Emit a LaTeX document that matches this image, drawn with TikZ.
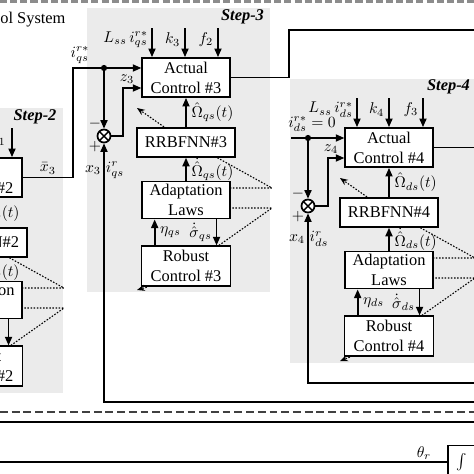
\documentclass[tikz,border=0pt]{standalone}
\usepackage{fontspec}
\setmainfont{Liberation Serif}
\usetikzlibrary{arrows.meta, positioning}
\begin{document}
\begin{tikzpicture}[x=0.64pt, y=-0.64pt, font=\fontsize{10.5}{12.8}\selectfont,
  blk/.style={draw, fill=white, line width=1.1pt, align=center, inner sep=1pt},
  act/.style={blk, minimum width=56pt, minimum height=25pt},
  nn/.style={blk, minimum width=63pt, minimum height=18.6pt},
  adapt/.style={blk, minimum width=56pt, minimum height=23.7pt},
  rob/.style={blk, minimum width=57pt, minimum height=25.6pt},
  wire/.style={line width=1.1pt},
  sig/.style={wire, -{Triangle[length=5.5pt, width=4.5pt]}},
  tune/.style={dash pattern=on 1pt off 1pt, line width=0.7pt, -{Stealth[length=5pt, width=4pt]}},
  tuneln/.style={dash pattern=on 1pt off 1pt, line width=0.7pt},
  lbl/.style={inner sep=0.5pt, font=\fontsize{10}{12}\selectfont},
  sumjn/.style={draw, circle, fill=white, line width=1.1pt, minimum size=8.3pt, inner sep=0pt,
    path picture={\draw[line width=0.9pt] (path picture bounding box.north west) -- (path picture bounding box.south east)
      (path picture bounding box.north east) -- (path picture bounding box.south west);}},
  jdot/.style={circle, fill, inner sep=1.4pt},
  stepbg/.style={fill=black!8, draw=none},
  steptxt/.style={font=\fontsize{10.5}{12}\selectfont\bfseries\itshape, anchor=base}]
\useasboundingbox (0,0) rectangle (474,474);
\clip (0,0) rectangle (474,474);

\fill[stepbg] (-121,108) rectangle (63,393);
\fill[stepbg] (87,8) rectangle (270,292);
\fill[stepbg] (290,79) rectangle (480,363);
\draw[black!45, line width=1.3pt, dash pattern=on 4.5pt off 2pt] (0,1.5) -- (474,1.5);
\node[anchor=base west, inner sep=0pt] (sysname) at (0,23) {ol System};
\node[steptxt] (s2) at (35,120) {Step-2};
\node[steptxt] (s3) at (242.5,20) {Step-3};
\node[steptxt] (s4) at (448.5,90) {Step-4};

% step 2
\node[act] (act2) at (-22,177.5) {Actual\\Control \#2};
\node[nn, below=18.6pt of act2] (nn2) {RRBFNN\#2};
\node[adapt, below=14.7pt of nn2] (ad2) {Adaptation\\Laws};
\node[rob, below=16.6pt of ad2] (rb2) {Robust\\Control \#2};
\coordinate (u2c) at (12,128);
\draw[sig] (u2c) -- node[lbl, left=3pt, pos=0.4]{$f_1$} (u2c |- act2.north);
\draw[sig] (nn2.north -| act2) -- node[lbl, right=2.5pt]{$\hat{\Omega}_{r}(t)$} (act2.south);
\draw[sig] (ad2.north -| act2) -- node[lbl, right=2.5pt]{$\dot{\hat{\Omega}}_{r}(t)$} (nn2.south -| act2);
\draw[sig] ([xshift=-9pt]ad2.south east) -- ([xshift=-9pt]ad2.south east |- rb2.north);
\coordinate (c2a) at (64,288);
\coordinate (c2b) at (64,308);
\draw[tuneln] ([xshift=-12pt]nn2.south east) -- (c2a) -- (c2a -| ad2.east);
\draw[tuneln] ([xshift=-8pt]rb2.north east) -- (c2b) -- (c2b -| ad2.east);

% step 3
\node[act] (act3) at (186,77.5) {Actual\\Control \#3};
\node[nn, below=18.6pt of act3] (nn3) {RRBFNN\#3};
\node[adapt, below=14.7pt of nn3] (ad3) {Adaptation\\Laws};
\node[rob, below=16.6pt of ad3] (rb3) {Robust\\Control \#3};
\coordinate (u3a) at (152,28);
\coordinate (u3b) at (185,28);
\coordinate (u3c) at (218,28);
\draw[sig] (u3a) -- node[lbl, left=1.5pt, pos=0.4]{$L_{ss}\,i_{qs}^{r*}$} (u3a |- act3.north);
\draw[sig] (u3b) -- node[lbl, left=2pt, pos=0.4]{$k_3$} (u3b |- act3.north);
\draw[sig] (u3c) -- node[lbl, left=2pt, pos=0.4]{$f_2$} (u3c |- act3.north);
\coordinate (q3) at (73,68);
\node[jdot] (jn3) at (104,68) {};
\node[sumjn] (sum3) at (104,136) {};
\draw[sig] (act2.east) -| node[lbl, above=1pt, pos=0.25]{$\bar{x}_3$} (q3) -- (q3 -| act3.west);
\node[lbl] (lq3) at (80,55) {$i_{qs}^{r*}$};
\draw[sig] (jn3) -- (sum3);
\node[lbl] (m3) at (95,124) {$-$};
\node[lbl] (p3) at (95,147) {$+$};
\coordinate (z3) at (123,88);
\draw[sig] (sum3) -| (z3) -- (z3 -| act3.west);
\node[lbl] (lz3) at (127,79) {$z_3$};
\coordinate (fb3) at (474,402);
\draw[sig] (fb3) -| (sum3);
\node[lbl] (lx3) at (93,170) {$x_3$};
\node[lbl] (li3) at (115,170) {$i_{qs}^{r}$};
\coordinate (o3a) at (289,30);
\coordinate (o3) at (474,30);
\draw[wire] (act3.east) -| (o3a) -- (o3);
\draw[sig] (nn3.north -| act3) -- node[lbl, right=2.5pt]{$\hat{\Omega}_{qs}(t)$} (act3.south);
\draw[sig] (ad3.north -| act3) -- node[lbl, right=2.5pt]{$\dot{\hat{\Omega}}_{qs}(t)$} (nn3.south -| act3);
\draw[sig] ([xshift=9pt]rb3.north west) -- node[lbl, right=2.5pt]{$\eta_{qs}$} ([xshift=9pt]rb3.north west |- ad3.south);
\draw[sig] ([xshift=-9pt]ad3.south east) -- node[lbl, left=2pt]{$\dot{\hat{\sigma}}_{qs}$} ([xshift=-9pt]ad3.south east |- rb3.north);
\coordinate (t3a) at (137,108);
\coordinate (t3b) at (137,290);
\draw[tune] ([xshift=18pt]nn3.north west) -- (t3a);
\draw[tune] ([xshift=4pt]rb3.south west) -- (t3b);
\coordinate (c3a) at (272,188);
\coordinate (c3b) at (272,208);
\draw[tuneln] ([xshift=-12pt]nn3.south east) -- (c3a) -- (c3a -| ad3.east);
\draw[tuneln] ([xshift=-8pt]rb3.north east) -- (c3b) -- (c3b -| ad3.east);

% step 4
\node[act] (act4) at (389,147.5) {Actual\\Control \#4};
\node[nn, below=18.6pt of act4] (nn4) {RRBFNN\#4};
\node[adapt, below=14.7pt of nn4] (ad4) {Adaptation\\Laws};
\node[rob, below=16.6pt of ad4] (rb4) {Robust\\Control \#4};
\coordinate (u4a) at (357,98);
\coordinate (u4b) at (389,98);
\coordinate (u4c) at (423,98);
\draw[sig] (u4a) -- node[lbl, left=1.5pt, pos=0.4]{$L_{ss}\,i_{ds}^{r*}$} (u4a |- act4.north);
\draw[sig] (u4b) -- node[lbl, left=2pt, pos=0.4]{$k_4$} (u4b |- act4.north);
\draw[sig] (u4c) -- node[lbl, left=2pt, pos=0.4]{$f_3$} (u4c |- act4.north);
\coordinate (in4) at (291,138);
\node[jdot] (jn4) at (308,138) {};
\node[sumjn] (sum4) at (308,206) {};
\draw[sig] (in4) -- (in4 -| act4.west);
\node[lbl] (lq4) at (312,124) {$i_{ds}^{r*}=0$};
\draw[sig] (jn4) -- (sum4);
\node[lbl] (m4) at (298,194) {$-$};
\node[lbl] (p4) at (298,217) {$+$};
\coordinate (z4) at (328,158);
\draw[sig] (sum4) -| (z4) -- (z4 -| act4.west);
\node[lbl] (lz4) at (331,149) {$z_4$};
\coordinate (fb4) at (474,383);
\draw[sig] (fb4) -| (sum4);
\node[lbl] (lx4) at (297,239) {$x_4$};
\node[lbl] (li4) at (319,239) {$i_{ds}^{r}$};
\coordinate (o4) at (474,147.5);
\draw[wire] (act4.east) -- (o4);
\draw[sig] (nn4.north -| act4) -- node[lbl, right=2.5pt]{$\hat{\Omega}_{ds}(t)$} (act4.south);
\draw[sig] (ad4.north -| act4) -- node[lbl, right=2.5pt]{$\dot{\hat{\Omega}}_{ds}(t)$} (nn4.south -| act4);
\draw[sig] ([xshift=9pt]rb4.north west) -- node[lbl, right=2.5pt]{$\eta_{ds}$} ([xshift=9pt]rb4.north west |- ad4.south);
\draw[sig] ([xshift=-9pt]ad4.south east) -- node[lbl, left=2pt]{$\dot{\hat{\sigma}}_{ds}$} ([xshift=-9pt]ad4.south east |- rb4.north);
\coordinate (t4a) at (340,178);
\coordinate (t4b) at (340,361);
\draw[tune] ([xshift=18pt]nn4.north west) -- (t4a);
\draw[tune] ([xshift=4pt]rb4.south west) -- (t4b);
\coordinate (c4a) at (475,258);
\coordinate (c4b) at (475,278);
\draw[tuneln] ([xshift=-12pt]nn4.south east) -- (c4a) -- (c4a -| ad4.east);
\draw[tuneln] ([xshift=-8pt]rb4.north east) -- (c4b) -- (c4b -| ad4.east);

% lower part
\draw[black!75, line width=0.9pt, dash pattern=on 5pt off 2.5pt] (0,412) -- (474,412);
\draw[wire] (0,422) -- (474,422);
\node[draw, fill=white, line width=1.1pt, minimum width=18pt, minimum height=21pt, inner sep=0pt, font=\fontsize{14}{14}\selectfont] (intg) at (462,462) {$\int$};
\coordinate (th) at (0,462);
\draw[wire] (intg) -- (th);
\node[lbl] (lth) at (424,453) {$\theta_r$};
\end{tikzpicture}
\end{document}
